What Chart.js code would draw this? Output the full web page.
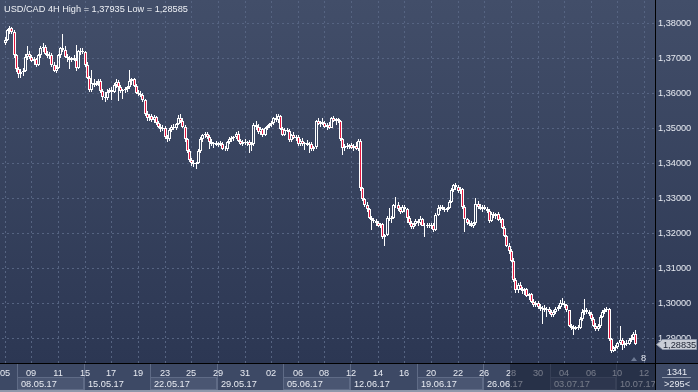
<!DOCTYPE html>
<html>
<head>
<meta charset="utf-8">
<script src="https://cdn.jsdelivr.net/npm/chart.js@4.4.1/dist/chart.umd.min.js"></script>
<style>
html, body { margin: 0; padding: 0; background: #2e3954; }
#wrap { width: 698px; height: 392px; }
</style>
</head>
<body>
<div id="wrap"><canvas id="chart" width="698" height="392"></canvas></div>
<script>
const symbol = 'USD/CAD';
const period = '4H';
const barsPerDay = 6;

// one row per trading day, 05.05.17 ... 11.07.17
const opens = [
  1.3745, 1.3752, 1.3780, 1.3786, 1.3775, 1.3708,
  1.3668, 1.3655, 1.3660, 1.3665, 1.3705, 1.3712,
  1.3703, 1.3692, 1.3698, 1.3682, 1.3708, 1.3728,
  1.3732, 1.3712, 1.3706, 1.3710, 1.3680, 1.3665,
  1.3672, 1.3708, 1.3728, 1.3725, 1.3705, 1.3700,
  1.3695, 1.3700, 1.3696, 1.3672, 1.3720, 1.3722,
  1.3718, 1.3680, 1.3645, 1.3610, 1.3630, 1.3625,
  1.3630, 1.3635, 1.3606, 1.3590, 1.3586, 1.3605,
  1.3610, 1.3605, 1.3625, 1.3632, 1.3618, 1.3606,
  1.3610, 1.3612, 1.3618, 1.3635, 1.3640, 1.3622,
  1.3602, 1.3598, 1.3596, 1.3580, 1.3540, 1.3528,
  1.3535, 1.3525, 1.3532, 1.3515, 1.3505, 1.3498,
  1.3502, 1.3475, 1.3470, 1.3495, 1.3505, 1.3500,
  1.3512, 1.3530, 1.3522, 1.3505, 1.3468, 1.3435,
  1.3410, 1.3400, 1.3398, 1.3402, 1.3435, 1.3468,
  1.3480, 1.3485, 1.3475, 1.3462, 1.3455, 1.3458,
  1.3452, 1.3458, 1.3455, 1.3442, 1.3440, 1.3460,
  1.3470, 1.3472, 1.3476, 1.3485, 1.3465, 1.3456,
  1.3462, 1.3458, 1.3460, 1.3452, 1.3456, 1.3510,
  1.3505, 1.3490, 1.3498, 1.3480, 1.3500, 1.3506,
  1.3512, 1.3515, 1.3528, 1.3525, 1.3535, 1.3498,
  1.3482, 1.3495, 1.3492, 1.3466, 1.3480, 1.3472,
  1.3476, 1.3455, 1.3465, 1.3455, 1.3458, 1.3452,
  1.3456, 1.3440, 1.3446, 1.3520, 1.3512, 1.3518,
  1.3515, 1.3505, 1.3510, 1.3502, 1.3528, 1.3522,
  1.3526, 1.3520, 1.3468, 1.3445, 1.3450, 1.3446,
  1.3452, 1.3445, 1.3450, 1.3442, 1.3465, 1.3328,
  1.3298, 1.3280, 1.3268, 1.3245, 1.3238, 1.3235,
  1.3230, 1.3222, 1.3226, 1.3190, 1.3195, 1.3245,
  1.3240, 1.3245, 1.3280, 1.3282, 1.3270, 1.3262,
  1.3275, 1.3268, 1.3245, 1.3230, 1.3218, 1.3226,
  1.3235, 1.3228, 1.3240, 1.3222, 1.3220, 1.3225,
  1.3220, 1.3225, 1.3210, 1.3252, 1.3272, 1.3276,
  1.3270, 1.3266, 1.3272, 1.3290, 1.3325, 1.3338,
  1.3332, 1.3320, 1.3326, 1.3275, 1.3240, 1.3230,
  1.3226, 1.3222, 1.3228, 1.3285, 1.3276, 1.3270,
  1.3275, 1.3270, 1.3264, 1.3236, 1.3256, 1.3250,
  1.3255, 1.3238, 1.3240, 1.3216, 1.3192, 1.3165,
  1.3148, 1.3122, 1.3066, 1.3038, 1.3052, 1.3042,
  1.3035, 1.3040, 1.3022, 1.3026, 1.3005, 1.2995,
  1.3002, 1.2990, 1.2985, 1.2988, 1.2980, 1.2984,
  1.2975, 1.2968, 1.2976, 1.2985, 1.2990, 1.3002,
  1.2998, 1.2995, 1.2980, 1.2936, 1.2930, 1.2928,
  1.2932, 1.2930, 1.2955, 1.2975, 1.2982, 1.2976,
  1.2970, 1.2955, 1.2936, 1.2928, 1.2934, 1.2962,
  1.2975, 1.2982, 1.2985, 1.2898, 1.2864, 1.2872,
  1.2876, 1.2886, 1.2895, 1.2882, 1.2888, 1.2885,
  1.2896, 1.2900, 1.2912
];
const highs = [
  1.3760, 1.3785, 1.37935, 1.3790, 1.3782, 1.3712,
  1.3675, 1.3668, 1.3672, 1.3712, 1.3735, 1.3722,
  1.3710, 1.3705, 1.3702, 1.3712, 1.3735, 1.3745,
  1.3738, 1.3720, 1.3718, 1.3715, 1.3688, 1.3680,
  1.3712, 1.3732, 1.3770, 1.3735, 1.3712, 1.3706,
  1.3705, 1.3708, 1.3738, 1.3725, 1.3730, 1.3728,
  1.3722, 1.3688, 1.3650, 1.3666, 1.3640, 1.3635,
  1.3640, 1.3642, 1.3612, 1.3604, 1.3612, 1.3615,
  1.3618, 1.3630, 1.3642, 1.3638, 1.3625, 1.3612,
  1.3618, 1.3622, 1.3666, 1.3645, 1.3644, 1.3626,
  1.3610, 1.3606, 1.3600, 1.3585, 1.3548, 1.3540,
  1.3542, 1.3538, 1.3536, 1.3522, 1.3512, 1.3508,
  1.3506, 1.3480, 1.3500, 1.3510, 1.3512, 1.3515,
  1.3538, 1.3540, 1.3528, 1.3508, 1.3472, 1.3440,
  1.3415, 1.3410, 1.3405, 1.3440, 1.3475, 1.3485,
  1.3490, 1.3490, 1.3480, 1.3468, 1.3462, 1.3465,
  1.3462, 1.3465, 1.3460, 1.3448, 1.3465, 1.3475,
  1.3478, 1.3478, 1.3490, 1.3492, 1.3470, 1.3466,
  1.3468, 1.3465, 1.3466, 1.3460, 1.3515, 1.3520,
  1.3512, 1.3505, 1.3502, 1.3505, 1.3510, 1.3515,
  1.3520, 1.3532, 1.3542, 1.3540, 1.3538, 1.3505,
  1.3500, 1.3502, 1.3498, 1.3485, 1.3488, 1.3480,
  1.3480, 1.3470, 1.3472, 1.3462, 1.3466, 1.3460,
  1.3460, 1.3450, 1.3525, 1.3530, 1.3522, 1.3528,
  1.3520, 1.3515, 1.3518, 1.3532, 1.3535, 1.3530,
  1.3530, 1.3524, 1.3472, 1.3455, 1.3458, 1.3455,
  1.3458, 1.3455, 1.3462, 1.3470, 1.3468, 1.3332,
  1.3302, 1.3290, 1.3272, 1.3250, 1.3245, 1.3242,
  1.3236, 1.3230, 1.3230, 1.3198, 1.3250, 1.3272,
  1.3248, 1.3285, 1.3305, 1.3288, 1.3275, 1.3280,
  1.3282, 1.3272, 1.3250, 1.3235, 1.3230, 1.3240,
  1.3240, 1.3248, 1.3245, 1.3228, 1.3228, 1.3230,
  1.3228, 1.3230, 1.3258, 1.3280, 1.3282, 1.3282,
  1.3276, 1.3275, 1.3295, 1.3330, 1.3342, 1.3345,
  1.3338, 1.3332, 1.3330, 1.3280, 1.3245, 1.3238,
  1.3235, 1.3232, 1.3302, 1.3292, 1.3285, 1.3280,
  1.3282, 1.3276, 1.3268, 1.3262, 1.3262, 1.3258,
  1.3260, 1.3246, 1.3244, 1.3220, 1.3195, 1.3172,
  1.3155, 1.3128, 1.3072, 1.3058, 1.3060, 1.3048,
  1.3045, 1.3044, 1.3030, 1.3030, 1.3012, 1.3008,
  1.3008, 1.2998, 1.2992, 1.2995, 1.2990, 1.2990,
  1.2982, 1.2980, 1.2990, 1.2995, 1.3010, 1.3015,
  1.3006, 1.2998, 1.2982, 1.2942, 1.2938, 1.2936,
  1.2938, 1.2960, 1.2985, 1.3012, 1.2988, 1.2982,
  1.2975, 1.2960, 1.2944, 1.2940, 1.2968, 1.2980,
  1.2988, 1.2990, 1.2988, 1.2902, 1.2878, 1.2880,
  1.2890, 1.2935, 1.2900, 1.2892, 1.2896, 1.2900,
  1.2910, 1.2918, 1.2925
];
const lows = [
  1.3738, 1.3748, 1.3770, 1.3768, 1.3700, 1.3660,
  1.3645, 1.3643, 1.3648, 1.3660, 1.3695, 1.3698,
  1.3688, 1.3680, 1.3675, 1.3678, 1.3702, 1.3718,
  1.3708, 1.3700, 1.3698, 1.3676, 1.3660, 1.3658,
  1.3668, 1.3702, 1.3718, 1.3700, 1.3690, 1.3668,
  1.3688, 1.3692, 1.3664, 1.3668, 1.3710, 1.3712,
  1.3676, 1.3640, 1.3605, 1.3605, 1.3618, 1.3620,
  1.3622, 1.3600, 1.3580, 1.3574, 1.3582, 1.3600,
  1.3580, 1.3600, 1.3615, 1.3578, 1.3600, 1.3585,
  1.3600, 1.3605, 1.3612, 1.3625, 1.3618, 1.3598,
  1.3592, 1.3590, 1.3575, 1.3535, 1.3520, 1.3522,
  1.3518, 1.3515, 1.3510, 1.3500, 1.3490, 1.3492,
  1.3470, 1.3462, 1.3465, 1.3488, 1.3495, 1.3496,
  1.3508, 1.3515, 1.3500, 1.3462, 1.3430, 1.3405,
  1.3393, 1.3390, 1.3385, 1.3398, 1.3428, 1.3460,
  1.3472, 1.3470, 1.3440, 1.3450, 1.3445, 1.3448,
  1.3446, 1.3450, 1.3438, 1.3435, 1.3436, 1.3455,
  1.3462, 1.3465, 1.3470, 1.3460, 1.3452, 1.3450,
  1.3452, 1.3448, 1.3430, 1.3435, 1.3450, 1.3495,
  1.3485, 1.3482, 1.3476, 1.3478, 1.3495, 1.3500,
  1.3505, 1.3510, 1.3518, 1.3515, 1.3495, 1.3478,
  1.3478, 1.3488, 1.3462, 1.3462, 1.3468, 1.3465,
  1.3450, 1.3448, 1.3450, 1.3438, 1.3450, 1.3428,
  1.3436, 1.3435, 1.3442, 1.3508, 1.3505, 1.3510,
  1.3500, 1.3495, 1.3498, 1.3500, 1.3518, 1.3510,
  1.3516, 1.3465, 1.3425, 1.3436, 1.3440, 1.3440,
  1.3440, 1.3436, 1.3438, 1.3435, 1.3320, 1.3292,
  1.3275, 1.3262, 1.3240, 1.3210, 1.3228, 1.3222,
  1.3218, 1.3215, 1.3185, 1.3165, 1.3192, 1.3236,
  1.3230, 1.3240, 1.3272, 1.3265, 1.3255, 1.3258,
  1.3262, 1.3228, 1.3225, 1.3212, 1.3212, 1.3220,
  1.3222, 1.3225, 1.3220, 1.3188, 1.3215, 1.3216,
  1.3212, 1.3205, 1.3206, 1.3248, 1.3265, 1.3266,
  1.3262, 1.3262, 1.3268, 1.3286, 1.3318, 1.3325,
  1.3315, 1.3312, 1.3270, 1.3205, 1.3225, 1.3222,
  1.3218, 1.3215, 1.3225, 1.3270, 1.3266, 1.3262,
  1.3266, 1.3258, 1.3230, 1.3232, 1.3245, 1.3240,
  1.3235, 1.3230, 1.3212, 1.3188, 1.3160, 1.3140,
  1.3118, 1.3060, 1.3030, 1.3030, 1.3038, 1.3028,
  1.3025, 1.3018, 1.3010, 1.3000, 1.2990, 1.2990,
  1.2985, 1.2978, 1.2940, 1.2975, 1.2960, 1.2970,
  1.2962, 1.2962, 1.2970, 1.2978, 1.2985, 1.2994,
  1.2988, 1.2975, 1.2932, 1.2925, 1.2910, 1.2924,
  1.2925, 1.2926, 1.2950, 1.2968, 1.2970, 1.2965,
  1.2950, 1.2932, 1.2922, 1.2920, 1.2930, 1.2958,
  1.2970, 1.2975, 1.2892, 1.28585, 1.2860, 1.2864,
  1.2870, 1.2880, 1.2866, 1.2872, 1.2878, 1.2880,
  1.2890, 1.2895, 1.2880
];
const closes = [
  1.3752, 1.3780, 1.3786, 1.3775, 1.3708, 1.3668,
  1.3655, 1.3660, 1.3665, 1.3705, 1.3712, 1.3703,
  1.3692, 1.3698, 1.3682, 1.3708, 1.3728, 1.3732,
  1.3712, 1.3706, 1.3710, 1.3680, 1.3665, 1.3672,
  1.3708, 1.3728, 1.3725, 1.3705, 1.3700, 1.3695,
  1.3700, 1.3696, 1.3672, 1.3720, 1.3722, 1.3718,
  1.3680, 1.3645, 1.3610, 1.3630, 1.3625, 1.3630,
  1.3635, 1.3606, 1.3590, 1.3586, 1.3605, 1.3610,
  1.3605, 1.3625, 1.3632, 1.3618, 1.3606, 1.3610,
  1.3612, 1.3618, 1.3635, 1.3640, 1.3622, 1.3602,
  1.3598, 1.3596, 1.3580, 1.3540, 1.3528, 1.3535,
  1.3525, 1.3532, 1.3515, 1.3505, 1.3498, 1.3502,
  1.3475, 1.3470, 1.3495, 1.3505, 1.3500, 1.3512,
  1.3530, 1.3522, 1.3505, 1.3468, 1.3435, 1.3410,
  1.3400, 1.3398, 1.3402, 1.3435, 1.3468, 1.3480,
  1.3485, 1.3475, 1.3462, 1.3455, 1.3458, 1.3452,
  1.3458, 1.3455, 1.3442, 1.3440, 1.3460, 1.3470,
  1.3472, 1.3476, 1.3485, 1.3465, 1.3456, 1.3462,
  1.3458, 1.3460, 1.3452, 1.3456, 1.3510, 1.3505,
  1.3490, 1.3498, 1.3480, 1.3500, 1.3506, 1.3512,
  1.3515, 1.3528, 1.3525, 1.3535, 1.3498, 1.3482,
  1.3495, 1.3492, 1.3466, 1.3480, 1.3472, 1.3476,
  1.3455, 1.3465, 1.3455, 1.3458, 1.3452, 1.3456,
  1.3440, 1.3446, 1.3520, 1.3512, 1.3518, 1.3515,
  1.3505, 1.3510, 1.3502, 1.3528, 1.3522, 1.3526,
  1.3520, 1.3468, 1.3445, 1.3450, 1.3446, 1.3452,
  1.3445, 1.3450, 1.3442, 1.3465, 1.3328, 1.3298,
  1.3280, 1.3268, 1.3245, 1.3238, 1.3235, 1.3230,
  1.3222, 1.3226, 1.3190, 1.3195, 1.3245, 1.3240,
  1.3245, 1.3280, 1.3282, 1.3270, 1.3262, 1.3275,
  1.3268, 1.3245, 1.3230, 1.3218, 1.3226, 1.3235,
  1.3228, 1.3240, 1.3222, 1.3220, 1.3225, 1.3220,
  1.3225, 1.3210, 1.3252, 1.3272, 1.3276, 1.3270,
  1.3266, 1.3272, 1.3290, 1.3325, 1.3338, 1.3332,
  1.3320, 1.3326, 1.3275, 1.3240, 1.3230, 1.3226,
  1.3222, 1.3228, 1.3285, 1.3276, 1.3270, 1.3275,
  1.3270, 1.3264, 1.3236, 1.3256, 1.3250, 1.3255,
  1.3238, 1.3240, 1.3216, 1.3192, 1.3165, 1.3148,
  1.3122, 1.3066, 1.3038, 1.3052, 1.3042, 1.3035,
  1.3040, 1.3022, 1.3026, 1.3005, 1.2995, 1.3002,
  1.2990, 1.2985, 1.2988, 1.2980, 1.2984, 1.2975,
  1.2968, 1.2976, 1.2985, 1.2990, 1.3002, 1.2998,
  1.2995, 1.2980, 1.2936, 1.2930, 1.2928, 1.2932,
  1.2930, 1.2955, 1.2975, 1.2982, 1.2976, 1.2970,
  1.2955, 1.2936, 1.2928, 1.2934, 1.2962, 1.2975,
  1.2982, 1.2985, 1.2898, 1.2864, 1.2872, 1.2876,
  1.2886, 1.2895, 1.2882, 1.2888, 1.2885, 1.2896,
  1.2900, 1.2912, 1.28835
];

// every second trading day gets a label, starting on 05.05
const dayTicks = ['05', '09', '11', '15', '17', '19', '23', '25', '29', '31', '02', '06', '08',
  '12', '14', '16', '20', '22', '26', '28', '30', '04', '06', '10', '12'];
const weekLabels = ['08.05.17', '15.05.17', '22.05.17', '29.05.17', '05.06.17',
  '12.06.17', '19.06.17', '26.06.17', '03.07.17', '10.07.17'];
const priceTicks = [1.29, 1.30, 1.31, 1.32, 1.33, 1.34, 1.35, 1.36, 1.37, 1.38];
const lastPrice = 1.28835;
const barCount = 1341;
const visibleBars = 295;

const fmt = v => v.toFixed(5).replace('.', ',');
const FONT = 'Liberation Sans, Arial, sans-serif';
const FSIZE = 9.2;

const idx = closes.map((c, i) => i);
const bodyLow = idx.map(i => Math.min(opens[i], closes[i]));
const bodyHigh = idx.map(i => Math.max(opens[i], closes[i]));

const backdrop = {
    id: 'backdrop',
    beforeDraw(chart) {
        const ctx = chart.ctx;
        const area = chart.chartArea;
        const x = chart.scales.x;
        ctx.save();
        const g = ctx.createLinearGradient(0, 0, 0, area.bottom);
        g.addColorStop(0, '#424e69');
        g.addColorStop(1, '#2c3753');
        ctx.fillStyle = g;
        ctx.fillRect(0, 0, chart.width, area.bottom);
        ctx.fillStyle = '#3d4965';
        ctx.fillRect(0, area.bottom, chart.width, chart.height - area.bottom);

        // week boxes in the lower row of the time axis
        weekLabels.forEach((w, i) => {
            const start = barsPerDay + i * 5 * barsPerDay - 0.5;
            const x0 = Math.round(x.getPixelForValue(start));
            const x1 = Math.min(Math.round(x.getPixelForValue(start + 5 * barsPerDay)), area.right);
            if (i % 2 === 0) {
                ctx.fillStyle = '#4a5672';
                ctx.fillRect(x0, 377, x1 - x0, 13);
                ctx.strokeStyle = '#5f6b86';
                ctx.strokeRect(x0 + 0.5, 377.5, x1 - x0 - 1, 12);
            }
            ctx.fillStyle = '#5f6b86';
            ctx.fillRect(x0, area.bottom + 1, 1, 27);
        });
        ctx.restore();
    },
    // half-pixel shift so 1px wicks and 3px bodies land on whole pixels
    beforeDatasetsDraw(chart) {
        chart.ctx.save();
        chart.ctx.translate(0.5, 0);
    },
    afterDatasetsDraw(chart) {
        chart.ctx.restore();
    },
    afterDraw(chart) {
        const ctx = chart.ctx;
        const area = chart.chartArea;
        const x = chart.scales.x;
        const y = chart.scales.y;
        const font = FSIZE + 'px ' + FONT;
        ctx.save();

        ctx.font = font;
        ctx.fillStyle = '#e8ebf2';
        ctx.textBaseline = 'alphabetic';
        ctx.beginPath();
        ctx.rect(0, area.bottom, area.right, chart.height - area.bottom);
        ctx.clip();
        weekLabels.forEach((w, i) => {
            const start = barsPerDay + i * 5 * barsPerDay - 0.5;
            ctx.fillText(w, Math.round(x.getPixelForValue(start)) + 4, 387);
        });
        ctx.restore();
        ctx.save();

        // darker strip over the time axis on the right
        ctx.fillStyle = 'rgba(22, 30, 50, 0.55)';
        ctx.fillRect(510, area.bottom + 1, area.right - 510, chart.height - area.bottom - 3);

        // frame lines
        ctx.fillStyle = '#8e97aa';
        ctx.fillRect(0, chart.height - 2, chart.width, 2);
        ctx.fillStyle = '#000000';
        ctx.fillRect(0, area.bottom, chart.width, 1);
        ctx.fillRect(area.right, 0, 1, chart.height - 2);

        // title
        ctx.font = font;
        ctx.fillStyle = '#eef0f5';
        ctx.textAlign = 'left';
        ctx.fillText(symbol + ' ' + period + ' High = ' + fmt(Math.max(...highs)) +
            ' Low = ' + fmt(Math.min(...lows)), 4, 12);

        // last price marker
        const py = Math.round(y.getPixelForValue(lastPrice));
        ctx.beginPath();
        ctx.moveTo(area.right + 1.5, py + 0.5);
        ctx.lineTo(area.right + 7.5, py - 4.5);
        ctx.lineTo(696.5, py - 4.5);
        ctx.lineTo(696.5, py + 5.5);
        ctx.lineTo(area.right + 7.5, py + 5.5);
        ctx.closePath();
        ctx.fillStyle = '#c9cdd6';
        ctx.fill();
        ctx.strokeStyle = '#8a93a6';
        ctx.stroke();
        ctx.fillStyle = '#1c2232';
        ctx.fillText(fmt(lastPrice), area.right + 8, py + 4);

        // shift marker
        ctx.fillStyle = '#6d7993';
        ctx.beginPath();
        ctx.moveTo(631, 361);
        ctx.lineTo(634, 357);
        ctx.lineTo(637, 361);
        ctx.closePath();
        ctx.fill();
        ctx.fillStyle = '#e8ebf2';
        ctx.fillText('8', 641, 361);

        // corner info
        ctx.textAlign = 'center';
        ctx.fillText(String(barCount), 677, 375);
        ctx.fillText('>' + visibleBars + '<', 677, 387);
        ctx.fillStyle = '#8e97aa';
        ctx.fillRect(662, 377, 29, 1);
        ctx.restore();
    }
};

new Chart(document.getElementById('chart'), {
    type: 'bar',
    data: {
        datasets: [
            {
                data: idx.map(i => ({x: i, y: [bodyHigh[i], highs[i]]})),
                backgroundColor: '#ffffff',
                borderWidth: 0,
                barThickness: 1,
                grouped: false,
                inflateAmount: 0
            },
            {
                data: idx.map(i => ({x: i, y: [lows[i], bodyLow[i]]})),
                backgroundColor: '#ffffff',
                borderWidth: 0,
                barThickness: 1,
                grouped: false,
                inflateAmount: 0
            },
            {
                data: idx.map(i => ({x: i, y: [bodyLow[i], bodyHigh[i]]})),
                backgroundColor: idx.map(i => closes[i] < opens[i] ? '#e3173e' : 'rgba(0,0,0,0)'),
                borderColor: '#ffffff',
                borderWidth: 1,
                borderSkipped: false,
                barThickness: 3,
                grouped: false,
                inflateAmount: 0
            }
        ]
    },
    options: {
        responsive: false,
        animation: false,
        devicePixelRatio: 1,
        layout: {padding: {left: 2, top: 1, right: 0, bottom: 0}},
        plugins: {legend: {display: false}, tooltip: {enabled: false}},
        scales: {
            x: {
                type: 'linear',
                min: -1.25,
                max: 292.9,
                offset: false,
                alignToPixels: true,
                afterBuildTicks: s => { s.ticks = dayTicks.map((t, i) => ({value: i * 2 * barsPerDay})); },
                afterFit: s => { s.height = 29; s.paddingLeft = 0; s.paddingRight = 0; },
                ticks: {
                    autoSkip: false,
                    maxRotation: 0,
                    padding: 5,
                    color: '#e8ebf2',
                    font: {family: FONT, size: FSIZE},
                    callback: (v, i) => dayTicks[i]
                },
                grid: {color: '#566482', drawTicks: false, offset: false},
                border: {display: false, dash: [2, 3]}
            },
            y: {
                position: 'right',
                min: 1.282943,
                max: 1.386371,
                alignToPixels: true,
                afterBuildTicks: s => { s.ticks = priceTicks.map(v => ({value: v})); },
                afterFit: s => { s.width = 43; s.paddingTop = 0; s.paddingBottom = 0; },
                ticks: {
                    padding: 3,
                    color: '#e8ebf2',
                    font: {family: FONT, size: FSIZE},
                    callback: v => fmt(v)
                },
                grid: {color: '#566482', drawTicks: false},
                border: {display: false, dash: [2, 3]}
            }
        }
    },
    plugins: [backdrop]
});
</script>
</body>
</html>
